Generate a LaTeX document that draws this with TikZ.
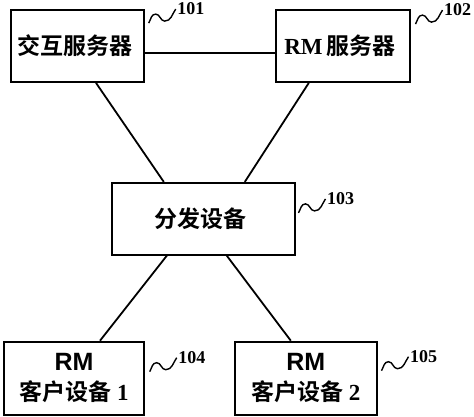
\documentclass[tikz,border=0pt]{standalone}
\usepackage{fontspec}
\setmainfont{Liberation Serif}
\newfontfamily\cjk{Noto Sans CJK SC}[BoldFont={Noto Sans CJK SC Bold}]
\newfontfamily\latinsans{Liberation Sans}
\usetikzlibrary{shapes,arrows,positioning}

\begin{document}
\begin{tikzpicture}[
    box/.style={rectangle, draw, line width=1.8pt, align=center, inner sep=0pt,
        font=\fontsize{23}{30}\selectfont\bfseries},
    link/.style={line width=1.8pt},
    refnum/.style={inner sep=1.5pt, font=\fontsize{18}{20}\selectfont\bfseries},
    squig/.style={line width=1.4pt}
]
    \useasboundingbox (0,0) rectangle (474pt,-417pt);

    	%-----Devices-----
        % Interaction Server
        \node [box, minimum width=133pt, minimum height=72pt] (ia) at (77.5pt,-46pt) {%
            {\cjk 交互服务器}
        };

        % RM Server
        \node [box, right=130pt of ia, minimum width=134pt, minimum height=72pt] (rm) {%
            RM\,{\cjk 服务器}
        };

        % Distribution Device
        \node [box, below right=99pt and -34pt of ia, minimum width=183pt, minimum height=72pt] (dist) {%
            {\cjk 分发设备}
        };

        % RM Client 1
        \node [box, below left=85pt and -34pt of dist, minimum width=140pt, minimum height=73pt] (cl1) {%
            {\latinsans\fontsize{25}{30}\selectfont RM} \\
            {\cjk 客户设备} 1
        };

        % RM Client 2
        \node [box, right=89pt of cl1, minimum width=142pt, minimum height=73pt] (cl2) {%
            {\latinsans\fontsize{25}{30}\selectfont RM} \\
            {\cjk 客户设备} 2
        };

        %-----Reference numbers-----
        \node [refnum] (lbl101) at ([xshift=46pt]ia.north east) {101};
        \node [refnum] (lbl102) at ([xshift=47pt,yshift=-1pt]rm.north east) {102};
        \node [refnum] (lbl103) at ([xshift=45pt,yshift=-17pt]dist.north east) {103};
        \node [refnum] (lbl104) at ([xshift=47pt,yshift=-17pt]cl1.north east) {104};
        \node [refnum] (lbl105) at ([xshift=46pt,yshift=-16pt]cl2.north east) {105};

        %-----Links-----
        \draw [link] ([yshift=-7pt]ia.east) -- ([yshift=-7pt]rm.west);
        \draw [link] ([xshift=18.5pt]ia.south) -- ([xshift=-39.5pt]dist.north);
        \draw [link] ([xshift=-34pt]rm.south) -- ([xshift=41.5pt]dist.north);
        \draw [link] ([xshift=-36.5pt]dist.south) -- ([xshift=26pt]cl1.north);
        \draw [link] ([xshift=23.5pt]dist.south) -- ([xshift=-15pt]cl2.north);

        % Squiggles to the reference numbers
        \draw [squig] ([xshift=-27pt,yshift=-14pt]lbl101.west) to[out=60,in=180] ++(7pt,9pt)
            to[out=0,in=180] ++(9pt,-7pt) to[out=0,in=235] (lbl101.west);
        \draw [squig] ([xshift=-27pt,yshift=-14pt]lbl102.west) to[out=60,in=180] ++(7pt,9pt)
            to[out=0,in=180] ++(9pt,-7pt) to[out=0,in=235] (lbl102.west);
        \draw [squig] ([xshift=-27pt,yshift=-14pt]lbl103.west) to[out=60,in=180] ++(7pt,9pt)
            to[out=0,in=180] ++(9pt,-7pt) to[out=0,in=235] (lbl103.west);
        \draw [squig] ([xshift=-27pt,yshift=-14pt]lbl104.west) to[out=60,in=180] ++(7pt,9pt)
            to[out=0,in=180] ++(9pt,-7pt) to[out=0,in=235] (lbl104.west);
        \draw [squig] ([xshift=-27pt,yshift=-14pt]lbl105.west) to[out=60,in=180] ++(7pt,9pt)
            to[out=0,in=180] ++(9pt,-7pt) to[out=0,in=235] (lbl105.west);

\end{tikzpicture}
\end{document}
